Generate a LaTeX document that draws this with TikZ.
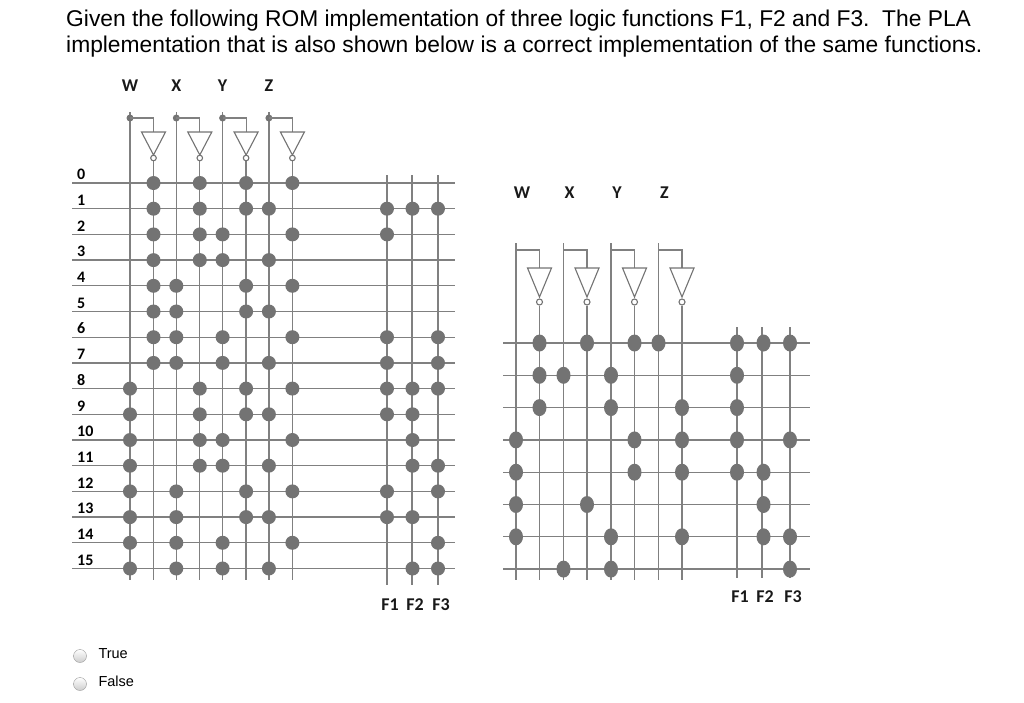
\documentclass[tikz,border=0pt]{standalone}
\usepackage{fontspec}
\setmainfont{Liberation Sans}
\newfontfamily\lblfont{Carlito}
\begin{document}
\begin{tikzpicture}[x=1pt,y=-1pt,
  wire/.style={draw=black!50,line width=1.3pt},
  inv/.style={draw=black!55,line width=1.1pt,fill=white},
  varlbl/.style={font=\lblfont\bfseries\fontsize{18}{19}\selectfont,text=black!90},
  rowlbl/.style={font=\lblfont\bfseries\fontsize{16}{17}\selectfont,anchor=south west,inner sep=0pt},
  title/.style={font=\fontsize{22.8}{26}\selectfont,anchor=west,inner sep=0pt},
  radio/.style={circle,draw=black!40,inner sep=0pt,minimum size=13pt,top color=white,bottom color=black!20}]
\useasboundingbox (0,0) rectangle (1024,702);
\node[title] (t1) at (66,21) {Given the following ROM implementation of three logic functions F1, F2 and F3.\ \ The PLA};
\node[title] (t2) at (66,47) {implementation that is also shown below is a correct implementation of the same functions.};
% ---------------- ROM ----------------
\foreach \k/\n in {0/W,1/X,2/Y,3/Z}{
  \pgfmathsetmacro\xt{130+46.3*\k}
  \pgfmathsetmacro\xi{\xt+23.5}
  \node[varlbl] (rv\n) at (\xt,86) {\n};
  \draw[wire] (\xt,112) -- (\xt,580);
  \fill[black!55] (\xt,118) circle[radius=3.5pt];
  \draw[wire,line width=1.1pt] (\xt,118) -| (\xi,132);
  \draw[wire] (\xi,160) -- (\xi,580);
  \draw[inv] (\xi-12,132) -- (\xi+12,132) -- (\xi,155) -- cycle;
  \draw[inv] (\xi,158) circle[radius=2.8pt];
}
\foreach \i in {0,...,15}{
  \pgfmathsetmacro\y{183+25.7*\i}
  \draw[wire] (72,\y) -- (455,\y);
  \node[rowlbl] (rl\i) at (77,\y-3) {\i};
  \foreach \k in {0,...,3}{
    \pgfmathtruncatemacro\b{mod(floor(\i/2^(3-\k)),2)}
    \pgfmathsetmacro\xx{130+46.3*\k+23.5*(1-\b)}
    \fill[black!55] (\xx,\y) circle[radius=7pt];
  }
}
\foreach \x/\n in {387/F1,412/F2,438/F3}{
  \draw[wire] (\x,175) -- (\x,585);
  \node[varlbl] (rf\n) at (\x+3,605) {\n};
}
\foreach \r/\c in {1/0,1/1,1/2,2/0,6/0,6/2,7/0,7/2,8/0,8/1,8/2,9/0,9/1,10/1,11/1,11/2,12/0,12/2,13/0,13/1,14/2,15/1,15/2}{
  \pgfmathsetmacro\y{183+25.7*\r}
  \pgfmathsetmacro\x{387+25.5*\c}
  \fill[black!55] (\x,\y) circle[radius=7pt];
}
% ---------------- PLA ----------------
\foreach \k/\n in {0/W,1/X,2/Y,3/Z}{
  \pgfmathsetmacro\xt{516+47.5*\k}
  \pgfmathsetmacro\xi{\xt+23.5}
  \node[varlbl] (pv\n) at (\xt+6,193) {\n};
  \draw[wire] (\xt,243) -- (\xt,580);
  \draw[wire,line width=1.1pt] (\xt,250) -| (\xi,268);
  \draw[wire] (\xi,306) -- (\xi,580);
  \draw[inv] (\xi-12,268) -- (\xi+12,268) -- (\xi,297) -- cycle;
  \draw[inv] (\xi,302) circle[radius=3pt];
}
\foreach \x/\n in {737/F1,762/F2,790/F3}{
  \draw[wire] (\x,327) -- (\x,578);
  \node[varlbl] (pf\n) at (\x+3,597) {\n};
}
\foreach \r in {0,...,7}{
  \pgfmathsetmacro\y{343+32.3*\r}
  \draw[wire] (503,\y) -- (810,\y);
}
% columns: 0 W,1 W',2 X,3 X',4 Y,5 Y',6 Z,7 Z'
\foreach \r/\c in {0/1,0/3,0/5,0/6,1/1,1/2,1/4,2/1,2/4,2/7,3/0,3/5,3/7,4/0,4/5,4/7,5/0,5/3,6/0,6/4,6/7,7/2,7/4}{
  \pgfmathsetmacro\y{343+32.3*\r}
  \pgfmathsetmacro\x{516+47.5*floor(\c/2)+23.5*mod(\c,2)}
  \fill[black!55] (\x,\y) ellipse[x radius=7pt,y radius=8.5pt];
}
\foreach \r/\c in {0/0,0/1,0/2,1/0,2/0,3/0,3/2,4/0,4/1,5/1,6/1,6/2,7/2}{
  \pgfmathsetmacro\y{343+32.3*\r}
  \pgfmathsetmacro\x{737+26.5*\c}
  \fill[black!55] (\x,\y) ellipse[x radius=7pt,y radius=8.5pt];
}
% ---------------- answers ----------------
\node[radio] (rt) at (80,656) {};
\node[radio] (rf) at (80,684) {};
\node[anchor=west,font=\fontsize{14.5}{16}\selectfont] (lt) at (95,654) {True};
\node[anchor=west,font=\fontsize{14.5}{16}\selectfont] (lf) at (95,681) {False};
\end{tikzpicture}
\end{document}
